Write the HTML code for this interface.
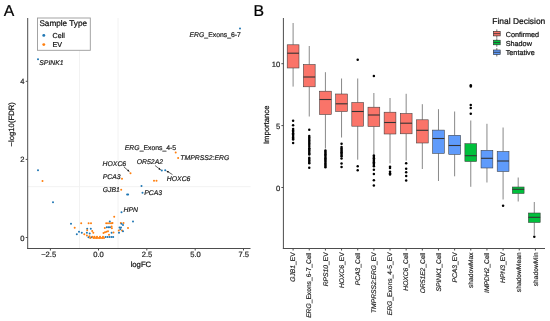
<!DOCTYPE html>
<html><head><meta charset="utf-8"><style>
html,body{margin:0;padding:0;background:#fff;}
svg{display:block;font-family:"Liberation Sans", sans-serif;will-change:transform;text-rendering:geometricPrecision;}
text{stroke-width:0.22px;stroke-linejoin:round;}
.k{fill:#111;stroke:#111;}
.t{fill:#262626;stroke:#262626;}
.l{fill:#222;stroke:#222;stroke-width:0.2px;}
.r{fill:#222;stroke:#222;stroke-width:0.17px;}
</style></head><body>
<svg width="550" height="321" viewBox="0 0 550 321">

<g stroke="#f0f0f0" stroke-width="0.9" fill="none">
<line x1="79.5" y1="18.0" x2="79.5" y2="248.5"/>
<line x1="118" y1="18.0" x2="118" y2="248.5"/>
<line x1="27.7" y1="186.7" x2="250.5" y2="186.7"/>
</g>
<g>
<circle cx="240" cy="28.4" r="1.0" fill="#1F77B4"/>
<circle cx="38" cy="59.2" r="1.0" fill="#1F77B4"/>
<circle cx="38" cy="170.3" r="1.0" fill="#1F77B4"/>
<circle cx="42.5" cy="181" r="1.0" fill="#FF7F0E"/>
<circle cx="53" cy="202.3" r="1.0" fill="#1F77B4"/>
<circle cx="175.7" cy="152.5" r="1.0" fill="#FF7F0E"/>
<circle cx="178.1" cy="157.9" r="1.0" fill="#FF7F0E"/>
<circle cx="161.8" cy="170.5" r="1.0" fill="#1F77B4"/>
<circle cx="165.2" cy="170.3" r="1.0" fill="#1F77B4"/>
<circle cx="130.5" cy="173.2" r="1.0" fill="#FF7F0E"/>
<circle cx="122" cy="178.8" r="1.0" fill="#FF7F0E"/>
<circle cx="121.2" cy="189.8" r="1.0" fill="#FF7F0E"/>
<circle cx="142.5" cy="192.8" r="1.0" fill="#1F77B4"/>
<circle cx="141.5" cy="186" r="1.0" fill="#1F77B4"/>
<circle cx="154" cy="180.7" r="1.0" fill="#FF7F0E"/>
<circle cx="156.5" cy="180.7" r="1.0" fill="#FF7F0E"/>
<circle cx="127.1" cy="194.5" r="1.0" fill="#1F77B4"/>
<circle cx="128.1" cy="194.5" r="1.0" fill="#1F77B4"/>
<circle cx="121.5" cy="212.3" r="1.0" fill="#1F77B4"/>
<circle cx="114.2" cy="216.8" r="1.0" fill="#FF7F0E"/>
<circle cx="133" cy="221.5" r="1.0" fill="#1F77B4"/>
<circle cx="120.8" cy="223" r="1.0" fill="#FF7F0E"/>
<circle cx="123.5" cy="223" r="1.0" fill="#FF7F0E"/>
<circle cx="123" cy="225" r="1.0" fill="#1F77B4"/>
<circle cx="128" cy="228" r="1.0" fill="#FF7F0E"/>
<circle cx="119.5" cy="227.5" r="1.0" fill="#1F77B4"/>
<circle cx="121" cy="227.5" r="1.0" fill="#1F77B4"/>
<circle cx="120.3" cy="229.3" r="1.0" fill="#1F77B4"/>
<circle cx="118.8" cy="230.5" r="1.0" fill="#FF7F0E"/>
<circle cx="122" cy="230.5" r="1.0" fill="#FF7F0E"/>
<circle cx="123" cy="231.3" r="1.0" fill="#1F77B4"/>
<circle cx="119" cy="232.8" r="1.0" fill="#1F77B4"/>
<circle cx="71" cy="223.8" r="1.0" fill="#1F77B4"/>
<circle cx="74.7" cy="227.8" r="1.0" fill="#FF7F0E"/>
<circle cx="81.2" cy="223.2" r="1.0" fill="#FF7F0E"/>
<circle cx="76.8" cy="234.2" r="1.0" fill="#1F77B4"/>
<circle cx="79" cy="231.8" r="1.0" fill="#1F77B4"/>
<circle cx="81.8" cy="232.8" r="1.0" fill="#1F77B4"/>
<circle cx="84.3" cy="234.3" r="1.0" fill="#FF7F0E"/>
<circle cx="88.6" cy="223.2" r="1.0" fill="#FF7F0E"/>
<circle cx="91" cy="223.2" r="1.0" fill="#FF7F0E"/>
<circle cx="87.2" cy="228.7" r="1.0" fill="#1F77B4"/>
<circle cx="90.8" cy="228.7" r="1.0" fill="#1F77B4"/>
<circle cx="87.2" cy="230.2" r="1.0" fill="#FF7F0E"/>
<circle cx="92.2" cy="230.9" r="1.0" fill="#FF7F0E"/>
<circle cx="86.9" cy="232.7" r="1.0" fill="#1F77B4"/>
<circle cx="89.7" cy="233.4" r="1.0" fill="#1F77B4"/>
<circle cx="93.3" cy="232.7" r="1.0" fill="#FF7F0E"/>
<circle cx="86.9" cy="235.5" r="1.0" fill="#FF7F0E"/>
<circle cx="106.2" cy="223.2" r="1.0" fill="#FF7F0E"/>
<circle cx="108" cy="223.2" r="1.0" fill="#FF7F0E"/>
<circle cx="110" cy="223.2" r="1.0" fill="#FF7F0E"/>
<circle cx="111.9" cy="223.2" r="1.0" fill="#FF7F0E"/>
<circle cx="109.8" cy="221.6" r="1.0" fill="#1F77B4"/>
<circle cx="106.8" cy="227.3" r="1.0" fill="#1F77B4"/>
<circle cx="108.5" cy="227.3" r="1.0" fill="#1F77B4"/>
<circle cx="110" cy="227.3" r="1.0" fill="#1F77B4"/>
<circle cx="111.6" cy="226.6" r="1.0" fill="#FF7F0E"/>
<circle cx="111.9" cy="228.2" r="1.0" fill="#FF7F0E"/>
<circle cx="104.8" cy="228" r="1.0" fill="#FF7F0E"/>
<circle cx="103.5" cy="233" r="1.0" fill="#FF7F0E"/>
<circle cx="105" cy="232.3" r="1.0" fill="#FF7F0E"/>
<circle cx="106.5" cy="231.8" r="1.0" fill="#FF7F0E"/>
<circle cx="108" cy="231.2" r="1.0" fill="#FF7F0E"/>
<circle cx="109" cy="234.8" r="1.0" fill="#FF7F0E"/>
<circle cx="111.6" cy="232.7" r="1.0" fill="#1F77B4"/>
<circle cx="113.5" cy="232.5" r="1.0" fill="#FF7F0E"/>
<circle cx="112.5" cy="223" r="1.0" fill="#FF7F0E"/>
<circle cx="121.5" cy="223.8" r="1.0" fill="#1F77B4"/>
<circle cx="88.5" cy="237.2" r="1.0" fill="#1F77B4"/>
<circle cx="91.5" cy="237.2" r="1.0" fill="#1F77B4"/>
<circle cx="105.5" cy="236.9" r="1.0" fill="#1F77B4"/>
<circle cx="107.5" cy="236.9" r="1.0" fill="#1F77B4"/>
<circle cx="109.5" cy="236.9" r="1.0" fill="#1F77B4"/>
<circle cx="111.5" cy="236.9" r="1.0" fill="#1F77B4"/>
<circle cx="113.2" cy="236.9" r="1.0" fill="#1F77B4"/>
<circle cx="90.2" cy="237.9" r="1.0" fill="#FF7F0E"/>
<circle cx="93.5" cy="237.9" r="1.0" fill="#FF7F0E"/>
<circle cx="95" cy="237.9" r="1.0" fill="#FF7F0E"/>
<circle cx="96.5" cy="237.9" r="1.0" fill="#FF7F0E"/>
<circle cx="98" cy="237.9" r="1.0" fill="#FF7F0E"/>
<circle cx="99.5" cy="237.9" r="1.0" fill="#FF7F0E"/>
<circle cx="101" cy="237.9" r="1.0" fill="#FF7F0E"/>
<circle cx="102.5" cy="237.9" r="1.0" fill="#FF7F0E"/>
<circle cx="104" cy="237.9" r="1.0" fill="#FF7F0E"/>
<circle cx="92.5" cy="236.8" r="1.0" fill="#FF7F0E"/>
<circle cx="94.5" cy="236.8" r="1.0" fill="#FF7F0E"/>
<circle cx="97" cy="236.8" r="1.0" fill="#FF7F0E"/>
<circle cx="100" cy="236.8" r="1.0" fill="#FF7F0E"/>
<circle cx="103" cy="236.8" r="1.0" fill="#FF7F0E"/>
<circle cx="89.5" cy="236.3" r="1.0" fill="#FF7F0E"/>
</g>
<line x1="124" y1="167" x2="129.4" y2="171.6" stroke="#111" stroke-width="0.65"/>
<polygon points="129.40,171.60 127.08,170.93 128.37,169.41" fill="#111"/>
<line x1="155" y1="165.5" x2="160.7" y2="169.9" stroke="#111" stroke-width="0.65"/>
<polygon points="160.70,169.90 158.35,169.35 159.57,167.76" fill="#111"/>
<line x1="172.5" y1="174.6" x2="166.6" y2="170.9" stroke="#111" stroke-width="0.65"/>
<polygon points="166.60,170.90 169.00,171.22 167.93,172.92" fill="#111"/>
<text x="189.5" y="37.1" font-size="6.85" class="l"><tspan font-style="italic">ERG</tspan>_Exons_6-7</text>
<text x="39.3" y="65" font-size="6.85" class="l" font-style="italic">SPINK1</text>
<text x="124.8" y="150" font-size="6.85" class="l"><tspan font-style="italic">ERG</tspan>_Exons_4-5</text>
<text x="180.3" y="160.3" font-size="6.85" class="l" font-style="italic">TMPRSS2:ERG</text>
<text x="102.6" y="166.1" font-size="6.85" class="l" font-style="italic">HOXC6</text>
<text x="136.8" y="164.3" font-size="6.85" class="l" font-style="italic">OR52A2</text>
<text x="102.8" y="179.1" font-size="6.85" class="l" font-style="italic">PCA3</text>
<text x="166.8" y="180.5" font-size="6.85" class="l" font-style="italic">HOXC6</text>
<text x="102.8" y="192.1" font-size="6.85" class="l" font-style="italic">GJB1</text>
<text x="144.3" y="194.6" font-size="6.85" class="l" font-style="italic">PCA3</text>
<text x="123.6" y="211.9" font-size="6.85" class="l" font-style="italic">HPN</text>
<g stroke="#4d4d4d" stroke-width="1" fill="none">
<line x1="27.7" y1="18.0" x2="27.7" y2="249.0"/>
<line x1="27.2" y1="248.5" x2="250.5" y2="248.5"/>
<line x1="25.7" y1="237.5" x2="27.7" y2="237.5"/>
<line x1="25.7" y1="159.4" x2="27.7" y2="159.4"/>
<line x1="25.7" y1="81.3" x2="27.7" y2="81.3"/>
<line x1="50.4" y1="248.5" x2="50.4" y2="250.5"/>
<line x1="98.5" y1="248.5" x2="98.5" y2="250.5"/>
<line x1="146.8" y1="248.5" x2="146.8" y2="250.5"/>
<line x1="195.2" y1="248.5" x2="195.2" y2="250.5"/>
<line x1="243.5" y1="248.5" x2="243.5" y2="250.5"/>
</g>
<g font-size="7.6" class="t" text-anchor="end">
<text x="24.6" y="240.5">0</text>
<text x="24.6" y="162.4">2</text>
<text x="24.6" y="84.3">4</text>
</g>
<g font-size="7.6" class="t" text-anchor="middle">
<text x="48.7" y="256.7">−2.5</text>
<text x="98.5" y="256.7">0.0</text>
<text x="147.0" y="256.7">2.5</text>
<text x="195.5" y="256.7">5.0</text>
<text x="243.8" y="256.7">7.5</text>
</g>
<text x="140.9" y="266.5" font-size="7.7" class="k" text-anchor="middle">logFC</text>
<text transform="translate(14.4,124.3) rotate(-90)" font-size="7.7" class="k" text-anchor="middle">−log10(FDR)</text>
<rect x="37.5" y="18" width="52.8" height="32.3" fill="#fff" stroke="#9a9a9a" stroke-width="0.9"/>
<text x="39.4" y="26.4" font-size="8.2" class="k">Sample Type</text>
<circle cx="43.8" cy="35.4" r="1.45" fill="#1F77B4"/>
<circle cx="43.8" cy="44.6" r="1.45" fill="#FF7F0E"/>
<text x="52.5" y="38" font-size="7.2" class="k">Cell</text>
<text x="52.5" y="47.1" font-size="7.2" class="k">EV</text>
<text x="3.8" y="16.0" font-size="15.8" fill="#000" stroke="#000" stroke-width="0.3">A</text>
<text x="253.4" y="16.0" font-size="15.8" fill="#000" stroke="#000" stroke-width="0.3">B</text>
<g>
<line x1="293.10" y1="23" x2="293.10" y2="44.8" stroke="#606060" stroke-width="0.75"/>
<line x1="293.10" y1="68.0" x2="293.10" y2="86.6" stroke="#606060" stroke-width="0.75"/>
<rect x="287.20" y="44.8" width="11.8" height="23.20" fill="#FA7469" stroke="#3a3a3a" stroke-width="0.55"/>
<line x1="287.20" y1="53.2" x2="299.00" y2="53.2" stroke="#333" stroke-width="1.1"/>
<circle cx="293.10" cy="120.7" r="1.25" fill="#000"/>
<circle cx="293.10" cy="125.3" r="1.25" fill="#000"/>
<circle cx="293.10" cy="129" r="1.25" fill="#000"/>
<circle cx="293.10" cy="130.4" r="1.25" fill="#000"/>
<circle cx="293.10" cy="131.8" r="1.25" fill="#000"/>
<circle cx="293.10" cy="133.2" r="1.25" fill="#000"/>
<circle cx="293.10" cy="134.6" r="1.25" fill="#000"/>
<circle cx="293.10" cy="136" r="1.25" fill="#000"/>
<circle cx="293.10" cy="137.4" r="1.25" fill="#000"/>
<circle cx="293.10" cy="138.8" r="1.25" fill="#000"/>
<circle cx="293.10" cy="139.6" r="1.25" fill="#000"/>
<circle cx="293.10" cy="143.1" r="1.25" fill="#000"/>
<line x1="309.25" y1="46" x2="309.25" y2="64.5" stroke="#606060" stroke-width="0.75"/>
<line x1="309.25" y1="86.8" x2="309.25" y2="116.5" stroke="#606060" stroke-width="0.75"/>
<rect x="303.35" y="64.5" width="11.8" height="22.30" fill="#FA7469" stroke="#3a3a3a" stroke-width="0.55"/>
<line x1="303.35" y1="77.0" x2="315.15" y2="77.0" stroke="#333" stroke-width="1.1"/>
<circle cx="309.25" cy="129.7" r="1.25" fill="#000"/>
<circle cx="309.25" cy="136" r="1.25" fill="#000"/>
<circle cx="309.25" cy="137.5" r="1.25" fill="#000"/>
<circle cx="309.25" cy="139" r="1.25" fill="#000"/>
<circle cx="309.25" cy="140.6" r="1.25" fill="#000"/>
<circle cx="309.25" cy="142.1" r="1.25" fill="#000"/>
<circle cx="309.25" cy="143.6" r="1.25" fill="#000"/>
<circle cx="309.25" cy="145.1" r="1.25" fill="#000"/>
<circle cx="309.25" cy="146.8" r="1.25" fill="#000"/>
<circle cx="309.25" cy="148.4" r="1.25" fill="#000"/>
<circle cx="309.25" cy="149.1" r="1.25" fill="#000"/>
<circle cx="309.25" cy="150.6" r="1.25" fill="#000"/>
<circle cx="309.25" cy="152.1" r="1.25" fill="#000"/>
<circle cx="309.25" cy="153.4" r="1.25" fill="#000"/>
<circle cx="309.25" cy="154.6" r="1.25" fill="#000"/>
<circle cx="309.25" cy="157.7" r="1.25" fill="#000"/>
<circle cx="309.25" cy="159.1" r="1.25" fill="#000"/>
<circle cx="309.25" cy="160.5" r="1.25" fill="#000"/>
<circle cx="309.25" cy="161.9" r="1.25" fill="#000"/>
<circle cx="309.25" cy="163.2" r="1.25" fill="#000"/>
<circle cx="309.25" cy="167.8" r="1.25" fill="#000"/>
<line x1="325.41" y1="72.2" x2="325.41" y2="91.2" stroke="#606060" stroke-width="0.75"/>
<line x1="325.41" y1="114.5" x2="325.41" y2="148.5" stroke="#606060" stroke-width="0.75"/>
<rect x="319.51" y="91.2" width="11.8" height="23.30" fill="#FA7469" stroke="#3a3a3a" stroke-width="0.55"/>
<line x1="319.51" y1="99.5" x2="331.31" y2="99.5" stroke="#333" stroke-width="1.1"/>
<circle cx="325.41" cy="150.4" r="1.25" fill="#000"/>
<circle cx="325.41" cy="151.70000000000002" r="1.25" fill="#000"/>
<circle cx="325.41" cy="153.0" r="1.25" fill="#000"/>
<circle cx="325.41" cy="154.3" r="1.25" fill="#000"/>
<circle cx="325.41" cy="155.6" r="1.25" fill="#000"/>
<circle cx="325.41" cy="156.9" r="1.25" fill="#000"/>
<circle cx="325.41" cy="158.20000000000002" r="1.25" fill="#000"/>
<circle cx="325.41" cy="159.5" r="1.25" fill="#000"/>
<circle cx="325.41" cy="160.8" r="1.25" fill="#000"/>
<circle cx="325.41" cy="162.1" r="1.25" fill="#000"/>
<circle cx="325.41" cy="163.4" r="1.25" fill="#000"/>
<circle cx="325.41" cy="164.70000000000002" r="1.25" fill="#000"/>
<circle cx="325.41" cy="166.0" r="1.25" fill="#000"/>
<circle cx="325.41" cy="167.3" r="1.25" fill="#000"/>
<line x1="341.56" y1="78.5" x2="341.56" y2="94.0" stroke="#606060" stroke-width="0.75"/>
<line x1="341.56" y1="111.5" x2="341.56" y2="137.5" stroke="#606060" stroke-width="0.75"/>
<rect x="335.66" y="94.0" width="11.8" height="17.50" fill="#FA7469" stroke="#3a3a3a" stroke-width="0.55"/>
<line x1="335.66" y1="103.8" x2="347.46" y2="103.8" stroke="#333" stroke-width="1.1"/>
<circle cx="341.56" cy="143.8" r="1.25" fill="#000"/>
<circle cx="341.56" cy="147.1" r="1.25" fill="#000"/>
<circle cx="341.56" cy="148.4" r="1.25" fill="#000"/>
<circle cx="341.56" cy="149.7" r="1.25" fill="#000"/>
<circle cx="341.56" cy="151.0" r="1.25" fill="#000"/>
<circle cx="341.56" cy="152.29999999999998" r="1.25" fill="#000"/>
<circle cx="341.56" cy="153.6" r="1.25" fill="#000"/>
<circle cx="341.56" cy="154.9" r="1.25" fill="#000"/>
<circle cx="341.56" cy="156.2" r="1.25" fill="#000"/>
<circle cx="341.56" cy="158.5" r="1.25" fill="#000"/>
<circle cx="341.56" cy="163.4" r="1.25" fill="#000"/>
<circle cx="341.56" cy="167" r="1.25" fill="#000"/>
<line x1="357.71" y1="78.5" x2="357.71" y2="102.5" stroke="#606060" stroke-width="0.75"/>
<line x1="357.71" y1="126.2" x2="357.71" y2="159.7" stroke="#606060" stroke-width="0.75"/>
<rect x="351.81" y="102.5" width="11.8" height="23.70" fill="#FA7469" stroke="#3a3a3a" stroke-width="0.55"/>
<line x1="351.81" y1="111.5" x2="363.61" y2="111.5" stroke="#333" stroke-width="1.1"/>
<circle cx="357.71" cy="59.7" r="1.25" fill="#000"/>
<circle cx="357.71" cy="166.2" r="1.25" fill="#000"/>
<circle cx="357.71" cy="170.3" r="1.25" fill="#000"/>
<line x1="373.87" y1="93.0" x2="373.87" y2="107.2" stroke="#606060" stroke-width="0.75"/>
<line x1="373.87" y1="126.5" x2="373.87" y2="154.4" stroke="#606060" stroke-width="0.75"/>
<rect x="367.97" y="107.2" width="11.8" height="19.30" fill="#FA7469" stroke="#3a3a3a" stroke-width="0.55"/>
<line x1="367.97" y1="115.0" x2="379.76" y2="115.0" stroke="#333" stroke-width="1.1"/>
<circle cx="373.87" cy="76" r="1.25" fill="#000"/>
<circle cx="373.87" cy="155.6" r="1.25" fill="#000"/>
<circle cx="373.87" cy="157" r="1.25" fill="#000"/>
<circle cx="373.87" cy="158.3" r="1.25" fill="#000"/>
<circle cx="373.87" cy="159.7" r="1.25" fill="#000"/>
<circle cx="373.87" cy="161" r="1.25" fill="#000"/>
<circle cx="373.87" cy="162.3" r="1.25" fill="#000"/>
<circle cx="373.87" cy="163.6" r="1.25" fill="#000"/>
<circle cx="373.87" cy="165" r="1.25" fill="#000"/>
<circle cx="373.87" cy="166.2" r="1.25" fill="#000"/>
<circle cx="373.87" cy="169.7" r="1.25" fill="#000"/>
<circle cx="373.87" cy="174" r="1.25" fill="#000"/>
<circle cx="373.87" cy="180.3" r="1.25" fill="#000"/>
<circle cx="373.87" cy="185.5" r="1.25" fill="#000"/>
<line x1="390.02" y1="98.0" x2="390.02" y2="112.2" stroke="#606060" stroke-width="0.75"/>
<line x1="390.02" y1="134.0" x2="390.02" y2="163.4" stroke="#606060" stroke-width="0.75"/>
<rect x="384.12" y="112.2" width="11.8" height="21.80" fill="#FA7469" stroke="#3a3a3a" stroke-width="0.55"/>
<line x1="384.12" y1="122.5" x2="395.92" y2="122.5" stroke="#333" stroke-width="1.1"/>
<circle cx="390.02" cy="166.7" r="1.25" fill="#000"/>
<circle cx="390.02" cy="168.1" r="1.25" fill="#000"/>
<circle cx="390.02" cy="171.8" r="1.25" fill="#000"/>
<circle cx="390.02" cy="173.2" r="1.25" fill="#000"/>
<circle cx="390.02" cy="174.6" r="1.25" fill="#000"/>
<line x1="406.17" y1="93.8" x2="406.17" y2="113.5" stroke="#606060" stroke-width="0.75"/>
<line x1="406.17" y1="133.8" x2="406.17" y2="160.6" stroke="#606060" stroke-width="0.75"/>
<rect x="400.27" y="113.5" width="11.8" height="20.30" fill="#FA7469" stroke="#3a3a3a" stroke-width="0.55"/>
<line x1="400.27" y1="123.2" x2="412.07" y2="123.2" stroke="#333" stroke-width="1.1"/>
<circle cx="406.17" cy="163.2" r="1.25" fill="#000"/>
<circle cx="406.17" cy="168.8" r="1.25" fill="#000"/>
<circle cx="406.17" cy="172.3" r="1.25" fill="#000"/>
<circle cx="406.17" cy="176" r="1.25" fill="#000"/>
<circle cx="406.17" cy="180.4" r="1.25" fill="#000"/>
<line x1="422.32" y1="104.2" x2="422.32" y2="119.8" stroke="#606060" stroke-width="0.75"/>
<line x1="422.32" y1="143.0" x2="422.32" y2="169.0" stroke="#606060" stroke-width="0.75"/>
<rect x="416.42" y="119.8" width="11.8" height="23.20" fill="#FA7469" stroke="#3a3a3a" stroke-width="0.55"/>
<line x1="416.42" y1="130.3" x2="428.22" y2="130.3" stroke="#333" stroke-width="1.1"/>
<line x1="438.48" y1="109.2" x2="438.48" y2="130.1" stroke="#606060" stroke-width="0.75"/>
<line x1="438.48" y1="153.4" x2="438.48" y2="181.0" stroke="#606060" stroke-width="0.75"/>
<rect x="432.58" y="130.1" width="11.8" height="23.30" fill="#5F9BFB" stroke="#3a3a3a" stroke-width="0.55"/>
<line x1="432.58" y1="138.5" x2="444.38" y2="138.5" stroke="#333" stroke-width="1.1"/>
<line x1="454.63" y1="111.5" x2="454.63" y2="135.3" stroke="#606060" stroke-width="0.75"/>
<line x1="454.63" y1="154.4" x2="454.63" y2="176.3" stroke="#606060" stroke-width="0.75"/>
<rect x="448.73" y="135.3" width="11.8" height="19.10" fill="#5F9BFB" stroke="#3a3a3a" stroke-width="0.55"/>
<line x1="448.73" y1="145.5" x2="460.53" y2="145.5" stroke="#333" stroke-width="1.1"/>
<line x1="470.78" y1="120.5" x2="470.78" y2="143.7" stroke="#606060" stroke-width="0.75"/>
<line x1="470.78" y1="161.5" x2="470.78" y2="186.8" stroke="#606060" stroke-width="0.75"/>
<rect x="464.88" y="143.7" width="11.8" height="17.80" fill="#00C03C" stroke="#3a3a3a" stroke-width="0.55"/>
<line x1="464.88" y1="155.7" x2="476.68" y2="155.7" stroke="#333" stroke-width="1.1"/>
<circle cx="470.78" cy="85.3" r="1.25" fill="#000"/>
<circle cx="470.78" cy="86.6" r="1.25" fill="#000"/>
<circle cx="470.78" cy="105" r="1.25" fill="#000"/>
<circle cx="470.78" cy="108" r="1.25" fill="#000"/>
<circle cx="470.78" cy="113.7" r="1.25" fill="#000"/>
<line x1="486.94" y1="123.8" x2="486.94" y2="150.3" stroke="#606060" stroke-width="0.75"/>
<line x1="486.94" y1="168.0" x2="486.94" y2="182.5" stroke="#606060" stroke-width="0.75"/>
<rect x="481.04" y="150.3" width="11.8" height="17.70" fill="#5F9BFB" stroke="#3a3a3a" stroke-width="0.55"/>
<line x1="481.04" y1="158.3" x2="492.84" y2="158.3" stroke="#333" stroke-width="1.1"/>
<line x1="503.09" y1="127.5" x2="503.09" y2="151.5" stroke="#606060" stroke-width="0.75"/>
<line x1="503.09" y1="171.5" x2="503.09" y2="199.5" stroke="#606060" stroke-width="0.75"/>
<rect x="497.19" y="151.5" width="11.8" height="20.00" fill="#5F9BFB" stroke="#3a3a3a" stroke-width="0.55"/>
<line x1="497.19" y1="161.0" x2="508.99" y2="161.0" stroke="#333" stroke-width="1.1"/>
<circle cx="503.09" cy="205.8" r="1.25" fill="#000"/>
<line x1="518.19" y1="177.5" x2="518.19" y2="187.0" stroke="#606060" stroke-width="0.75"/>
<line x1="518.19" y1="193.5" x2="518.19" y2="201.5" stroke="#606060" stroke-width="0.75"/>
<rect x="512.29" y="187.0" width="11.8" height="6.50" fill="#00C03C" stroke="#3a3a3a" stroke-width="0.55"/>
<line x1="512.29" y1="189.3" x2="524.09" y2="189.3" stroke="#333" stroke-width="1.1"/>
<line x1="534.29" y1="202.0" x2="534.29" y2="213.0" stroke="#606060" stroke-width="0.75"/>
<line x1="534.29" y1="222.5" x2="534.29" y2="235.0" stroke="#606060" stroke-width="0.75"/>
<rect x="528.39" y="213.0" width="11.8" height="9.50" fill="#00C03C" stroke="#3a3a3a" stroke-width="0.55"/>
<line x1="528.39" y1="217.3" x2="540.19" y2="217.3" stroke="#333" stroke-width="1.1"/>
<circle cx="534.29" cy="236.8" r="1.25" fill="#000"/>
</g>
<g stroke="#4d4d4d" stroke-width="1" fill="none">
<line x1="283.4" y1="18.0" x2="283.4" y2="249.0"/>
<line x1="282.9" y1="248.5" x2="545.0" y2="248.5"/>
<line x1="281.4" y1="187.5" x2="283.4" y2="187.5"/>
<line x1="281.4" y1="125.6" x2="283.4" y2="125.6"/>
<line x1="281.4" y1="63.7" x2="283.4" y2="63.7"/>
<line x1="293.10" y1="248.5" x2="293.10" y2="250.5"/>
<line x1="309.25" y1="248.5" x2="309.25" y2="250.5"/>
<line x1="325.41" y1="248.5" x2="325.41" y2="250.5"/>
<line x1="341.56" y1="248.5" x2="341.56" y2="250.5"/>
<line x1="357.71" y1="248.5" x2="357.71" y2="250.5"/>
<line x1="373.87" y1="248.5" x2="373.87" y2="250.5"/>
<line x1="390.02" y1="248.5" x2="390.02" y2="250.5"/>
<line x1="406.17" y1="248.5" x2="406.17" y2="250.5"/>
<line x1="422.32" y1="248.5" x2="422.32" y2="250.5"/>
<line x1="438.48" y1="248.5" x2="438.48" y2="250.5"/>
<line x1="454.63" y1="248.5" x2="454.63" y2="250.5"/>
<line x1="470.78" y1="248.5" x2="470.78" y2="250.5"/>
<line x1="486.94" y1="248.5" x2="486.94" y2="250.5"/>
<line x1="503.09" y1="248.5" x2="503.09" y2="250.5"/>
<line x1="519.24" y1="248.5" x2="519.24" y2="250.5"/>
<line x1="535.39" y1="248.5" x2="535.39" y2="250.5"/>
</g>
<g font-size="7.6" class="t" text-anchor="end">
<text x="280.2" y="190.5">0</text>
<text x="280.2" y="128.6">5</text>
<text x="280.2" y="66.7">10</text>
</g>
<text transform="translate(269.2,124.8) rotate(-90)" font-size="7.7" class="k" text-anchor="middle">Importance</text>
<text transform="translate(295.30,252.4) rotate(-90)" font-size="6.7" class="r" text-anchor="end"><tspan font-style="italic">GJB1</tspan>_EV</text>
<text transform="translate(311.45,252.4) rotate(-90)" font-size="6.7" class="r" text-anchor="end"><tspan font-style="italic">ERG</tspan>_Exons_6-7_Cell</text>
<text transform="translate(327.61,252.4) rotate(-90)" font-size="6.7" class="r" text-anchor="end"><tspan font-style="italic">RPS10</tspan>_EV</text>
<text transform="translate(343.76,252.4) rotate(-90)" font-size="6.7" class="r" text-anchor="end"><tspan font-style="italic">HOXC6</tspan>_EV</text>
<text transform="translate(359.91,252.4) rotate(-90)" font-size="6.7" class="r" text-anchor="end"><tspan font-style="italic">PCA3</tspan>_Cell</text>
<text transform="translate(376.06,252.4) rotate(-90)" font-size="6.7" class="r" text-anchor="end"><tspan font-style="italic">TMPRSS2:ERG</tspan>_EV</text>
<text transform="translate(392.22,252.4) rotate(-90)" font-size="6.7" class="r" text-anchor="end"><tspan font-style="italic">ERG</tspan>_Exons_4-5_EV</text>
<text transform="translate(408.37,252.4) rotate(-90)" font-size="6.7" class="r" text-anchor="end"><tspan font-style="italic">HOXC6</tspan>_Cell</text>
<text transform="translate(424.52,252.4) rotate(-90)" font-size="6.7" class="r" text-anchor="end"><tspan font-style="italic">OR51E2</tspan>_Cell</text>
<text transform="translate(440.68,252.4) rotate(-90)" font-size="6.7" class="r" text-anchor="end"><tspan font-style="italic">SPINK1</tspan>_Cell</text>
<text transform="translate(456.83,252.4) rotate(-90)" font-size="6.7" class="r" text-anchor="end"><tspan font-style="italic">PCA3</tspan>_EV</text>
<text transform="translate(472.98,252.4) rotate(-90)" font-size="6.7" class="r" text-anchor="end">shadowMax</text>
<text transform="translate(489.14,252.4) rotate(-90)" font-size="6.7" class="r" text-anchor="end"><tspan font-style="italic">IMPDH2</tspan>_Cell</text>
<text transform="translate(505.29,252.4) rotate(-90)" font-size="6.7" class="r" text-anchor="end"><tspan font-style="italic">HPN3</tspan>_EV</text>
<text transform="translate(521.44,252.4) rotate(-90)" font-size="6.7" class="r" text-anchor="end">shadowMean</text>
<text transform="translate(537.60,252.4) rotate(-90)" font-size="6.7" class="r" text-anchor="end">shadowMin</text>
<text x="492.3" y="23.8" font-size="8.45" class="k">Final Decision</text>
<line x1="496.8" y1="29.400000000000002" x2="496.8" y2="37.8" stroke="#333" stroke-width="0.7"/>
<rect x="493.4" y="31.3" width="6.8" height="4.6" fill="#FA7469" stroke="#2a2a2a" stroke-width="0.6"/>
<line x1="493.4" y1="33.6" x2="500.2" y2="33.6" stroke="#333" stroke-width="0.8"/>
<text x="505.7" y="36.6" font-size="7.25" class="k">Confirmed</text>
<line x1="496.8" y1="38.300000000000004" x2="496.8" y2="46.7" stroke="#333" stroke-width="0.7"/>
<rect x="493.4" y="40.2" width="6.8" height="4.6" fill="#00C03C" stroke="#2a2a2a" stroke-width="0.6"/>
<line x1="493.4" y1="42.5" x2="500.2" y2="42.5" stroke="#333" stroke-width="0.8"/>
<text x="505.7" y="45.5" font-size="7.25" class="k">Shadow</text>
<line x1="496.8" y1="48.1" x2="496.8" y2="56.5" stroke="#333" stroke-width="0.7"/>
<rect x="493.4" y="50.0" width="6.8" height="4.6" fill="#5F9BFB" stroke="#2a2a2a" stroke-width="0.6"/>
<line x1="493.4" y1="52.3" x2="500.2" y2="52.3" stroke="#333" stroke-width="0.8"/>
<text x="505.7" y="55.3" font-size="7.25" class="k">Tentative</text>
</svg>
</body></html>
